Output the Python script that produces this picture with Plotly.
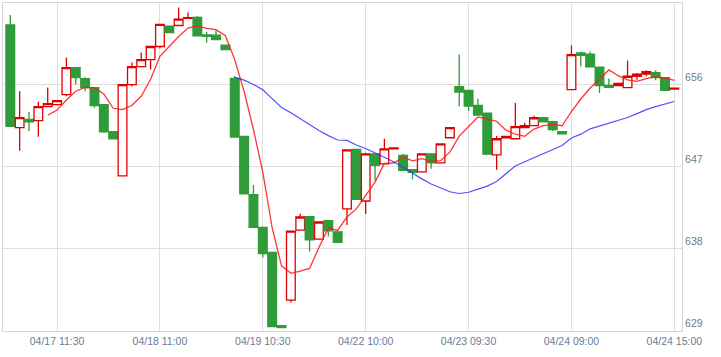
import plotly.graph_objects as go
import pandas as pd

# ---- data (72 bars) ----
opens = [662.5, 651.25, 652.16, 652.02, 653.55, 653.77, 654.87, 657.83, 656.63, 655.64,
         653.77, 650.81, 645.98, 655.97, 657.94, 658.71, 660.14, 662.37, 662.44, 663.22,
         663.32, 661.41, 661.38, 660.28, 656.66, 650.29, 643.93, 640.34, 637.59, 629.58,
         632.37, 640.05, 641.51, 639.06, 641.07, 639.86, 642.36, 648.87, 643.23, 648.39,
         647.3, 648.95, 648.21, 646.67, 646.42, 648.39, 647.4, 650.15, 655.75, 655.34,
         653.69, 652.85, 648.28, 650.15, 650.04, 651.25, 651.47, 652.34, 651.9, 650.81,
         655.42, 659.44, 659.29, 657.87, 655.89, 655.86, 655.64, 656.88, 657.13, 657.28,
         656.74, 655.48]
highs = [663.6, 655.23, 653.0, 654.1, 655.64, 654.21, 658.93, 657.83, 656.77, 655.64,
         653.77, 650.81, 655.97, 658.38, 659.48, 660.14, 662.55, 662.37, 664.42, 663.87,
         663.47, 661.74, 661.93, 660.28, 656.91, 650.29, 644.99, 640.34, 637.59, 629.58,
         639.94, 641.84, 641.51, 640.93, 641.18, 639.86, 648.83, 648.87, 648.5, 648.39,
         650.04, 649.05, 648.4, 646.67, 648.39, 648.39, 649.49, 651.25, 659.26, 655.34,
         654.43, 652.85, 650.33, 650.3, 653.95, 651.8, 652.56, 652.34, 652.0, 650.81,
         660.25, 659.59, 659.59, 657.87, 656.63, 656.11, 658.6, 657.24, 657.54, 657.54,
         656.74, 655.58]
lows = [651.4, 648.72, 650.9, 650.26, 653.55, 653.77, 654.68, 655.97, 655.23, 653.44,
        650.66, 650.04, 645.98, 655.75, 657.94, 657.61, 659.92, 661.67, 662.44, 663.22,
        661.3, 660.58, 660.9, 659.81, 650.22, 644.0, 640.34, 637.04, 629.47, 629.36,
        632.11, 640.05, 637.7, 639.06, 639.35, 638.69, 640.6, 643.41, 641.81, 645.46,
        647.3, 648.95, 646.59, 645.6, 646.42, 646.75, 647.4, 650.15, 653.59, 653.07,
        652.63, 648.35, 646.64, 650.15, 650.04, 651.25, 651.47, 651.9, 650.9, 650.59,
        655.42, 657.98, 657.9, 655.05, 655.67, 655.86, 655.64, 656.51, 656.88, 656.44,
        655.34, 655.48]
closes = [651.4, 652.35, 651.9, 653.55, 653.88, 654.21, 657.83, 656.74, 655.64, 653.66,
          650.81, 650.04, 655.97, 657.94, 658.71, 660.14, 662.55, 661.67, 663.13, 663.3,
          661.3, 661.24, 660.9, 659.81, 650.22, 644.0, 640.34, 637.48, 629.47, 629.36,
          639.94, 641.48, 638.99, 640.93, 639.97, 638.69, 648.83, 643.41, 648.39, 647.14,
          648.94, 649.05, 646.59, 646.37, 648.39, 647.4, 649.49, 651.25, 655.15, 653.62,
          652.63, 648.35, 650.04, 650.3, 651.36, 651.47, 652.34, 651.9, 651.03, 650.59,
          659.26, 659.18, 657.9, 655.86, 655.67, 656.11, 656.88, 657.1, 657.39, 656.74,
          655.34, 655.58]

tick_index = [5, 16, 27, 38, 49, 60, 71]
tick_labels = ["04/17 11:30", "04/18 11:00", "04/19 10:30", "04/22 10:00",
               "04/23 09:30", "04/24 09:00", "04/24 15:00"]
y_ticks = [629, 638, 647, 656]

x = list(range(len(closes)))
close_s = pd.Series(closes)
ma_short = close_s.rolling(5).mean()
ma_long = close_s.rolling(25).mean()

RED = "#e00000"
GREEN = "#2f9b39"

fig = go.Figure()
fig.add_trace(go.Candlestick(
    x=x, open=opens, high=highs, low=lows, close=closes,
    increasing=dict(line=dict(color=RED, width=1.3), fillcolor="#ffffff"),
    decreasing=dict(line=dict(color=GREEN, width=1.3), fillcolor=GREEN),
    whiskerwidth=0, showlegend=False, hoverinfo="skip",
))
fig.add_trace(go.Scatter(x=x, y=ma_short, mode="lines",
                         line=dict(color="rgba(255,30,30,0.9)", width=1.3),
                         showlegend=False, hoverinfo="skip"))
fig.add_trace(go.Scatter(x=x, y=ma_long, mode="lines",
                         line=dict(color="rgba(50,50,255,0.85)", width=1.2),
                         showlegend=False, hoverinfo="skip"))

label_font = dict(family="Liberation Sans, Arial, sans-serif", size=10.5, color="#6b7b94")

fig.update_layout(
    width=721, height=357,
    margin=dict(l=3, r=39, t=3, b=26),
    paper_bgcolor="white", plot_bgcolor="white",
    boxgap=0.07, boxgroupgap=0,
    hovermode=False,
    xaxis=dict(
        range=[-0.78, 71.82], rangeslider=dict(visible=False),
        tickmode="array", tickvals=tick_index, ticktext=tick_labels,
        showgrid=True, gridcolor="#dedede", gridwidth=1,
        showline=True, linecolor="#d6d6d6", linewidth=1, mirror=True,
        ticks="", tickfont=label_font, zeroline=False,
    ),
    yaxis=dict(
        range=[629, 664.9], side="right",
        tickmode="array", tickvals=y_ticks,
        showgrid=True, gridcolor="#dedede", gridwidth=1,
        showline=True, linecolor="#d6d6d6", linewidth=1, mirror=True,
        ticks="", tickfont=label_font, zeroline=False,
        ticklabelposition="outside top",
    ),
)

fig.write_html("out.html", config={"displayModeBar": False},
               post_script="document.body.style.margin='0';")
